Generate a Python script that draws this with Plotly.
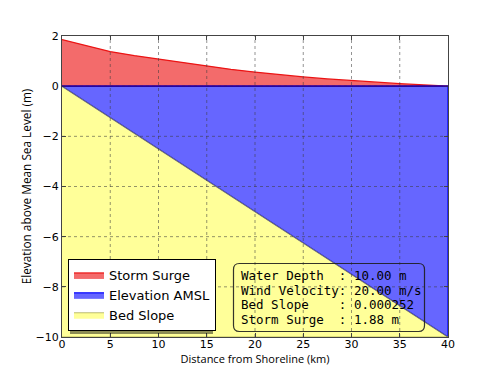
import plotly.graph_objects as go

# Data
distance_km = [0, 2.5, 5, 7.5, 10, 12.5, 15, 17.5, 20, 22.5, 25, 27.5, 30, 32.5, 35, 37.5, 40]
storm_surge = [1.86, 1.62, 1.38, 1.22, 1.08, 0.93, 0.80, 0.67, 0.56, 0.46, 0.37, 0.29, 0.22, 0.16, 0.10, 0.05, 0.0]
bed_elev = [0, -0.625, -1.25, -1.875, -2.5, -3.125, -3.75, -4.375, -5.0, -5.625, -6.25, -6.875, -7.5, -8.125, -8.75, -9.375, -10.0]
x_ticks = [0, 5, 10, 15, 20, 25, 30, 35, 40]
y_ticks = [-10, -8, -6, -4, -2, 0, 2]
info_labels = ["Water Depth", "Wind Velocity", "Bed Slope", "Storm Surge"]
info_values = ["10.00 m", "20.00 m/s", "0.000252", "1.88 m"]

x_min, x_max = 0, 40
y_min, y_max = -10, 2

# page offset compensation (body margin of 8px)
OFF = 8
PL, PR, PT, PB = 62, 448, 36, 337   # plot area in window pixels
W, H = 500, 375

fig = go.Figure()

rev_x = distance_km[::-1]
zeros = [0] * len(distance_km)

fig.add_trace(go.Scatter(
    x=distance_km + rev_x, y=storm_surge + zeros, fill="toself",
    fillcolor="rgba(235,0,0,0.58)", line=dict(color="rgba(235,20,20,1)", width=1.2),
    mode="lines", name="Storm Surge", legendrank=1))
fig.add_trace(go.Scatter(
    x=distance_km + rev_x, y=zeros + bed_elev[::-1], fill="toself",
    fillcolor="rgba(0,0,255,0.6)", line=dict(color="rgba(0,0,255,1)", width=1.2),
    mode="lines", name="Elevation AMSL", legendrank=2))
fig.add_trace(go.Scatter(
    x=distance_km + [x_max, x_min], y=bed_elev + [y_min, y_min], fill="toself",
    fillcolor="rgba(255,255,0,0.4)", line=dict(color="rgba(150,150,60,0.8)", width=0.8),
    mode="lines", name="Bed Slope", legendrank=3))

shapes = []
for xv in x_ticks[1:-1]:
    shapes.append(dict(type="line", xref="x", yref="y", x0=xv, x1=xv, y0=y_min, y1=y_max,
                       line=dict(color="rgba(60,60,60,0.55)", width=1, dash="dot"), layer="above"))
for yv in y_ticks[1:-1]:
    shapes.append(dict(type="line", xref="x", yref="y", x0=x_min, x1=x_max, y0=yv, y1=yv,
                       line=dict(color="rgba(60,60,60,0.55)", width=1, dash="dot"), layer="above"))
# dark zero line where surge meets water
shapes.append(dict(type="line", xref="x", yref="y", x0=x_min, x1=x_max, y0=0, y1=0,
                   line=dict(color="rgba(40,0,140,0.9)", width=1.2), layer="above"))

def px2x(p):
    return x_min + (p - PL) / (PR - PL) * (x_max - x_min)

def py2y(p):
    return y_max - (p - PT) / (PB - PT) * (y_max - y_min)

# rounded text box
bx0, bx1, by1, by0 = px2x(233.5), px2x(424.5), py2y(263.5), py2y(331.5)
rx, ry = 0.6, 0.24
path = (f"M {bx0+rx},{by1} L {bx1-rx},{by1} Q {bx1},{by1} {bx1},{by1-ry} "
        f"L {bx1},{by0+ry} Q {bx1},{by0} {bx1-rx},{by0} L {bx0+rx},{by0} "
        f"Q {bx0},{by0} {bx0},{by0+ry} L {bx0},{by1-ry} Q {bx0},{by1} {bx0+rx},{by1} Z")
shapes.append(dict(type="path", xref="x", yref="y", path=path,
                   line=dict(color="rgba(30,30,30,0.9)", width=1.2), layer="above"))

# legend shadow
shapes.append(dict(type="rect", xref="paper", yref="paper",
                   x0=(70 - PL) / (PR - PL), x1=(213 - PL) / (PR - PL),
                   y0=(PB - 334) / (PB - PT), y1=(PB - 273) / (PB - PT),
                   fillcolor="rgba(0,0,0,0.45)", line=dict(width=0), layer="above"))

nb = "\u00a0"
line_px = [275, 290, 304.5, 319]
for lab, val, lp in zip(info_labels, info_values, line_px):
    txt = lab.ljust(13).replace(" ", nb) + ":" + nb + val
    fig.add_annotation(x=px2x(239), y=py2y(lp), xref="x", yref="y",
                       xanchor="left", yanchor="middle", align="left", showarrow=False,
                       text=txt,
                       font=dict(family="DejaVu Sans Mono", size=12.5, color="black"))

fig.update_layout(
    width=W, height=H,
    margin=dict(l=PL - OFF, r=W - (PR - OFF), t=PT - OFF, b=H - (PB - OFF)),
    paper_bgcolor="white", plot_bgcolor="white",
    font=dict(family="DejaVu Sans", size=11, color="black"),
    showlegend=True,
    legend=dict(x=(68 - PL) / (PR - PL), y=(PB - 331) / (PB - PT), xanchor="left", yanchor="bottom",
                bgcolor="white", bordercolor="black", borderwidth=1,
                font=dict(family="DejaVu Sans", size=13), itemwidth=30,
                tracegroupgap=0),
    shapes=shapes,
)
fig.update_xaxes(range=[x_min, x_max], tickvals=x_ticks, ticks="inside", ticklen=4,
                 showline=True, linecolor="#444", linewidth=1, mirror="ticks",
                 showgrid=False, zeroline=False, layer="above traces",
                 ticklabelstandoff=-3, automargin=False,
                 title=dict(text="Distance from Shoreline (km)", standoff=0,
                            font=dict(family="Open Sans", size=11)))
fig.update_yaxes(range=[y_min, y_max], tickvals=y_ticks, ticks="inside", ticklen=4,
                 showline=True, linecolor="#444", linewidth=1, mirror="ticks",
                 showgrid=False, zeroline=False, layer="above traces", automargin=False,
                 title=dict(text="Elevation above Mean Sea Level (m)", standoff=1,
                            font=dict(family="Open Sans", size=11.8)))

fig.write_html("out.html")
